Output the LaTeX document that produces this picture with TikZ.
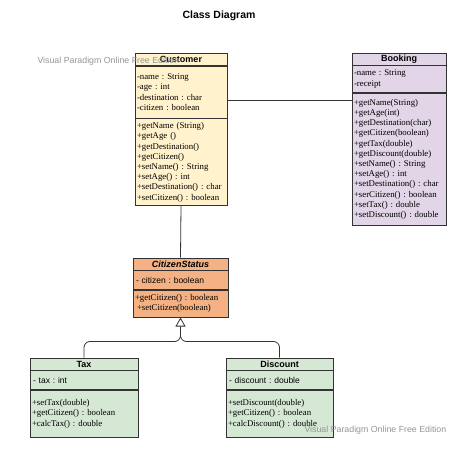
\documentclass[tikz,border=0pt]{standalone}
\usepackage{fontspec}
\setmainfont{Liberation Serif}
\setsansfont{Liberation Sans}
\frenchspacing
\usetikzlibrary{arrows.meta,positioning}
\definecolor{yellowi}{RGB}{255,242,204}
\definecolor{purplei}{RGB}{225,213,231}
\definecolor{orangei}{RGB}{244,177,131}
\definecolor{greeni}{RGB}{213,232,212}
\definecolor{grayi}{RGB}{150,150,150}
\definecolor{linei}{RGB}{51,51,51}
\tikzset{
      myhead/.style 2 args={
        draw=linei,
        fill=#1,
        line width=0.6pt,
        font=\sffamily\bfseries\fontsize{9}{10}\selectfont,
        minimum width=#2,
        minimum height=12pt,
        inner sep=0pt
      },
      mybody/.style 2 args={
        draw=linei,
        fill=#1,
        line width=0.6pt,
        font=\fontsize{8.8}{10.2}\selectfont,
        text width=#2,
        align=left,
        inner xsep=2pt,
        inner ysep=2pt
      },
      myattr/.style={
        font=\sffamily\fontsize{8.5}{10}\selectfont
      },
      mymark/.style={
        text=grayi,
        font=\sffamily\fontsize{8.8}{10}\selectfont,
        anchor=west
      },
      mylink/.style={
        draw=linei,
        line width=0.8pt
      },
    }
\begin{document}
\begin{tikzpicture}[x=1pt,y=-1pt,node distance=0pt]

          \useasboundingbox[fill=white] (0,0) rectangle (474,457);

          \node[font=\sffamily\bfseries\fontsize{10.5}{12}\selectfont]
            (title) at (219,16)
            {Class Diagram};

          % Customer
          \node[myhead={yellowi}{92pt}]
            (customerhead) at (181,59.5)
            {Customer};
          \node[mybody={yellowi}{88pt},below=of customerhead,minimum height=52pt]
            (customerattr)
            {-name : String\\-age : int\\-destination : char\\-citizen : boolean\\[9pt]};
          \node[mybody={yellowi}{88pt},below=of customerattr,minimum height=87pt]
            (customerops)
            {+getName (String)\\+getAge ()\\+getDestination()\\+getCitizen()\\+setName() : String\\+setAge() : int\\+setDestination() : char\\+setCitizen() : boolean\\[2pt]};
          \draw[line width=1.1pt,linei] (customerops.north west) -- (customerops.north east);

          % Booking
          \node[myhead={purplei}{94pt}]
            (bookinghead) at (399,59)
            {Booking};
          \node[mybody={purplei}{90pt},below=of bookinghead,minimum height=27pt]
            (bookingattr)
            {-name : String\\-receipt\\[3pt]};
          \node[mybody={purplei}{90pt},below=of bookingattr,minimum height=132pt]
            (bookingops)
            {+getName(String)\\+getAge(int)\\+getDestination(char)\\+getCitizen(boolean)\\+getTax(double)\\+getDiscount(double)\\+setName() : String\\+setAge() : int\\+setDestination() : char\\+serCitizen() : boolean\\+setTax() : double\\+setDiscount() : double\\[3pt]};
          \draw[line width=1.1pt,linei] (bookingops.north west) -- (bookingops.north east);

          % CitizenStatus
          \node[myhead={orangei}{95pt},font=\sffamily\bfseries\itshape\fontsize{9}{10}\selectfont]
            (statushead) at (180.5,264)
            {CitizenStatus};
          \node[mybody={orangei}{91pt},myattr,below=of statushead,minimum height=19pt]
            (statusattr)
            {\hspace{1pt}- citizen : boolean};
          \node[mybody={orangei}{91pt},below=of statusattr,minimum height=27pt]
            (statusops)
            {+getCitizen() : boolean\\\hspace{2pt}+setCitizen(boolean)};

          % Tax
          \node[myhead={greeni}{108pt}]
            (taxhead) at (84,364)
            {Tax};
          \node[mybody={greeni}{104pt},myattr,below=of taxhead,minimum height=19pt]
            (taxattr)
            {\hspace{1pt}- tax : int};
          \node[mybody={greeni}{104pt},below=of taxattr,minimum height=47pt]
            (taxops)
            {+setTax(double)\\+getCitizen() : boolean\\+calcTax() : double\\[6pt]};

          % Discount
          \node[myhead={greeni}{107pt}]
            (discounthead) at (279.5,364)
            {Discount};
          \node[mybody={greeni}{103pt},myattr,below=of discounthead,minimum height=19pt]
            (discountattr)
            {\hspace{1pt}- discount : double};
          \node[mybody={greeni}{103pt},below=of discountattr,minimum height=47pt]
            (discountops)
            {+setDiscount(double)\\+getCitizen() : boolean\\+calcDiscount() : double\\[6pt]};

          % links
          \draw[mylink] ([yshift=-8.5pt]customerattr.east) -- ([yshift=-8.5pt]customerattr.east -| bookingops.west);
          \draw[mylink] (customerops.south) -- (statushead.north);

          \coordinate[below=24pt of statusops.south] (junction);
          \draw[mylink,rounded corners=6pt,-{Triangle[open,length=9pt,width=10pt,fill=white]}]
            (taxhead.north) |- (junction) -- (statusops.south);
          \draw[mylink,rounded corners=6pt] (discounthead.north) |- (junction) -- ([yshift=-10pt]statusops.south);

          % watermarks
          \node[mymark] (markone) at (34,61) {Visual Paradigm Online Free Edition};
          \node[mymark] (marktwo) at (301,430) {Visual Paradigm Online Free Edition};

        \end{tikzpicture}
\end{document}
